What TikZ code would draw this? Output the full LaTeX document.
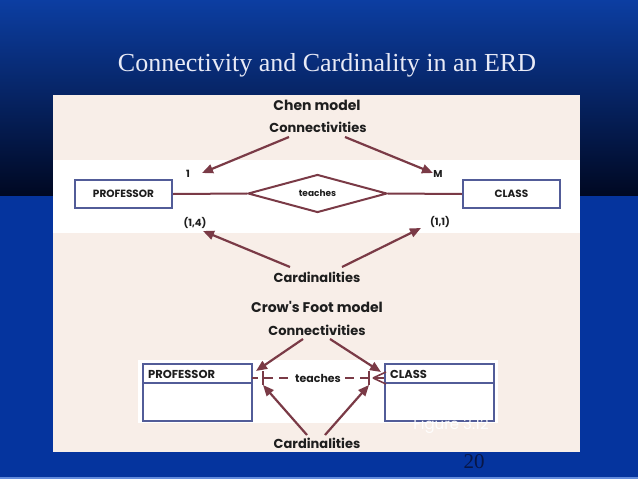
\documentclass[tikz,border=0pt]{standalone}
\usepackage{fontspec}
\setmainfont{Liberation Serif}
\newfontfamily\dg{Poppins}
\usetikzlibrary{arrows.meta,shapes.geometric}
\definecolor{panel}{RGB}{248,238,232}
\definecolor{maroon}{RGB}{122,58,70}
\definecolor{boxblue}{RGB}{82,92,152}
\definecolor{ink}{RGB}{30,30,30}
\definecolor{royal}{RGB}{5,52,158}
\definecolor{topblue}{RGB}{12,62,162}
\definecolor{midblue}{RGB}{2,32,100}
\definecolor{deepblue}{RGB}{0,8,34}
\definecolor{titlecol}{RGB}{232,234,246}
\definecolor{pagenum}{RGB}{8,22,70}
\definecolor{lineblue}{RGB}{100,140,220}
\tikzset{
  lbl/.style={inner sep=0pt, text=ink, font=\dg\bfseries\fontsize{#1}{#1}\selectfont},
  lbl/.default=13,
  arr/.style={draw=maroon, line width=2.2pt, -{Triangle[length=11pt,width=9pt]}},
  rel/.style={draw=maroon, line width=2pt},
  chenbox/.style={draw=boxblue, line width=2.2pt, fill=white, minimum width=97pt, minimum height=28pt, inner sep=0pt, text=ink, font=\dg\bfseries\fontsize{10.5}{10.5}\selectfont},
  crowbox/.style={draw=boxblue, line width=2.2pt, fill=white, minimum width=109pt, minimum height=57pt, inner sep=0pt},
}
\begin{document}
\begin{tikzpicture}[x=1pt,y=-1pt]
\useasboundingbox (0,0) rectangle (638,479);
% slide background
\shade[top color=topblue, middle color=midblue, bottom color=deepblue] (0,0) rectangle (638,196);
\fill[royal] (0,196) rectangle (638,479);
\fill[lineblue] (0,477) rectangle (638,479);
% title
\node[inner sep=0pt, text=titlecol, font=\fontsize{26}{26}\selectfont] (title) at (327,65) {Connectivity and Cardinality in an ERD};
% page number (partly under the panel)
\node[inner sep=0pt, text=pagenum, font=\fontsize{21}{21}\selectfont] (page) at (474,462) {20};
% panel
\fill[panel] (53,95) rectangle (580,452);
\fill[white] (53,160) rectangle (580,233);
\fill[white] (138,360) rectangle (498,423);

% ---------- Chen model ----------
\node[lbl=14] (chen) at (317,105) {Chen model};
\node[lbl=13] (conn1) at (318,127) {Connectivities};
\coordinate (c1l) at (289,137);
\coordinate (c1r) at (345,137);
\coordinate (t1l) at (202,173);
\coordinate (t1r) at (433,173);
\draw[arr] (c1l) -- (t1l);
\draw[arr] (c1r) -- (t1r);
\node[lbl=10] (one) at (188,174) {1};
\node[lbl=10] (many) at (438,174) {M};

\node[chenbox] (prof) at (123.5,194) {PROFESSOR};
\node[chenbox] (class) at (511.5,194) {CLASS};
\node[diamond, draw=maroon, line width=2pt, fill=white, minimum width=139pt, minimum height=38pt, aspect=3.6, inner sep=0pt,
      text=ink, font=\dg\bfseries\fontsize{9}{9}\selectfont] (teach) at (317.5,193.5) {teaches};
\draw[rel] (prof.east) -- (teach.west);
\draw[rel] (teach.east) -- (class.west);

\node[lbl=10] (c14) at (195,223) {(1,4)};
\node[lbl=10] (c11) at (440,222) {(1,1)};
\node[lbl=13] (card1) at (317,277) {Cardinalities};
\coordinate (d1l) at (290,267);
\coordinate (d1r) at (342,267);
\coordinate (u1l) at (203,231);
\coordinate (u1r) at (421,228);
\draw[arr] (d1l) -- (u1l);
\draw[arr] (d1r) -- (u1r);

% ---------- Crow's Foot model ----------
\node[lbl=14] (crow) at (317,307) {Crow's Foot model};
\node[lbl=13] (conn2) at (317,330) {Connectivities};

\node[crowbox] (cprof) at (197.5,392.5) {};
\node[crowbox] (cclass) at (439.5,392.5) {};
\draw[draw=boxblue, line width=2pt] (143,383) -- (252,383);
\draw[draw=boxblue, line width=2pt] (386,383) -- (493,383);
\node[lbl=11.5, anchor=west] (ptxt) at (148,374) {PROFESSOR};
\node[lbl=11.5, anchor=west] (ctxt) at (390,374) {CLASS};

\coordinate (rl) at (252,378);
\coordinate (rr) at (386,378);
\node[lbl=11, fill=white, inner xsep=4pt] (cteach) at (318,378) {teaches};
\draw[rel, dash pattern=on 9pt off 6pt, dash phase=3pt] (rl) -- (cteach.west);
\draw[rel, dash pattern=on 9pt off 6pt, dash phase=0pt] (cteach.east) -- (rr);
\draw[rel] (263,371) -- (263,385);
\draw[rel] (369,371) -- (369,385);
\draw[rel, line width=1.6pt] (373,378) -- (386,372);
\draw[rel, line width=1.6pt] (373,378) -- (386,384);

\coordinate (c2l) at (303,339);
\coordinate (c2r) at (330,339);
\coordinate (t2l) at (256,371);
\coordinate (t2r) at (381,372);
\draw[arr] (c2l) -- (t2l);
\draw[arr] (c2r) -- (t2r);

\node[lbl=13] (card2) at (317,443) {Cardinalities};
\coordinate (d2l) at (307,435);
\coordinate (d2r) at (325,435);
\coordinate (u2l) at (263,385);
\coordinate (u2r) at (369,385);
\draw[arr] (d2l) -- (u2l);
\draw[arr] (d2r) -- (u2r);

\node[inner sep=0pt, text=white, opacity=0.9, font=\dg\fontsize{15}{15}\selectfont] (fig) at (451,426) {Figure 3.12};
\end{tikzpicture}
\end{document}
